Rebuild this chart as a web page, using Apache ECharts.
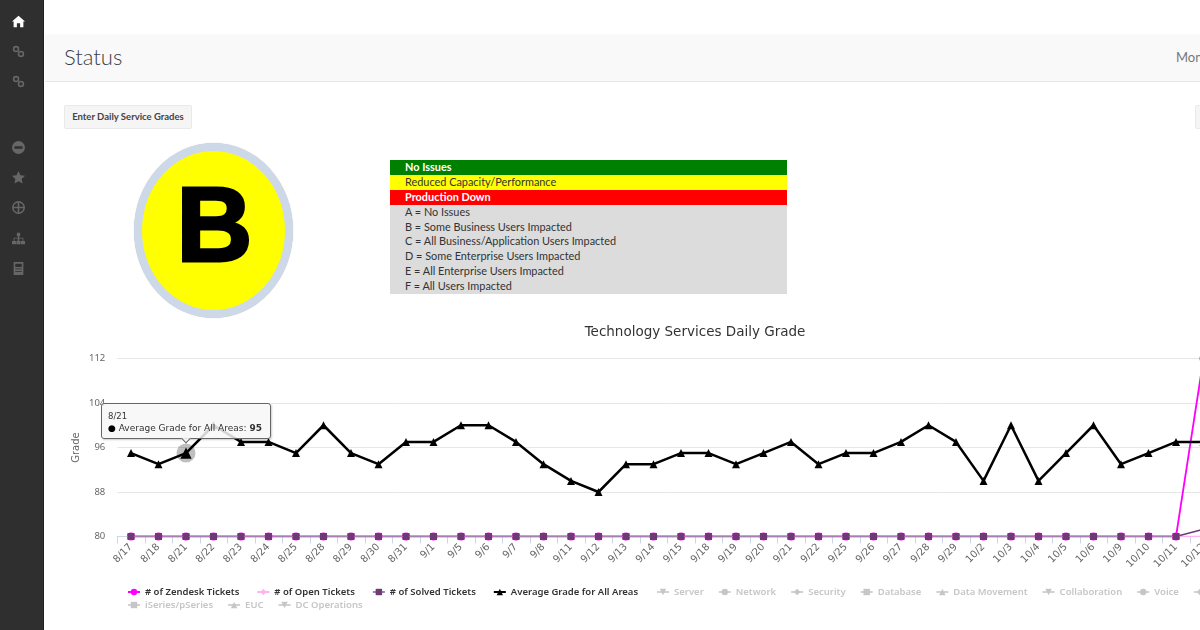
<!DOCTYPE html>
<html>
<head>
    <meta charset="utf-8">
    <title>Status</title>
    <script src="https://cdn.jsdelivr.net/npm/echarts@6/dist/echarts.min.js"></script>
    <style>
        html, body { margin: 0; width: 1200px; height: 630px; overflow: hidden; background: #fff; font-family: Lato, "Open Sans", sans-serif; color: #333; }
        .abs { position: absolute; }
        #sidebar { left: 0; top: 0; width: 44px; height: 630px; background: #2f2f2f; border-right: 1px solid #1f1f1f; box-sizing: border-box; }
        #sidebar svg { position: absolute; left: 12px; width: 13px; height: 13px; fill: #666; }
        #band { left: 45px; top: 34px; width: 1155px; height: 48px; background: #f9f9f9; border-bottom: 1px solid #e7e7e7; border-top: 1px solid #fbfbfb; box-sizing: border-box; }
        #heading { left: 64px; top: 44px; font-size: 22px; line-height: 26px; color: #3c3f48; font-weight: 300; }
        #mon { left: 1176px; top: 49px; font-size: 13px; line-height: 16px; color: #777; }
        .btn { top: 105px; height: 24px; background: #f5f5f5; border: 1px solid #e9e9e9; border-radius: 2px; box-sizing: border-box; }
        #btn { left: 64px; width: 128px; font-size: 9.5px; line-height: 22px; text-align: center; color: #444; font-weight: 700; }
        #grade { left: 134px; top: 143px; width: 159px; height: 175px; border-radius: 50%; background: #ffff00; border: 8.5px solid #cdd9e8; box-sizing: border-box; box-shadow: 0 0 1px #bbb; }
        #letter { left: 135px; top: 137px; width: 159px; height: 175px; text-align: center; font: bold 105px/175px "Liberation Sans", sans-serif; color: #000; -webkit-text-stroke: 3px #000; }
        #key { left: 390px; top: 160px; width: 397px; }
        #key div { height: 14.9px; line-height: 13px; padding-left: 15px; font-size: 10.9px; background: #dcdcdc; color: #333; white-space: nowrap; }
        #key .g { background: #008000; color: #fff; font-weight: 700; }
        #key .y { background: #ffff00; color: #333; }
        #key .r { background: #ff0000; color: #fff; font-weight: 700; }
        #main { left: 0; top: 0; width: 1500px; height: 630px; }
    </style>
</head>
<body>
<div id="sidebar" class="abs">
    <svg style="top:15px;fill:#fff" viewBox="0 0 16 16"><path d="M8 1 0 8h2v7h4v-5h4v5h4V8h2z"/></svg>
    <svg style="top:45px" viewBox="0 0 16 16"><path d="M5 1a4 4 0 1 0 0 8 4 4 0 0 0 0-8zm0 2a2 2 0 1 1 0 4 2 2 0 0 1 0-4zm6 4a4 4 0 1 0 0 8 4 4 0 0 0 0-8zm0 2a2 2 0 1 1 0 4 2 2 0 0 1 0-4z"/></svg>
    <svg style="top:75px" viewBox="0 0 16 16"><path d="M5 1a4 4 0 1 0 0 8 4 4 0 0 0 0-8zm0 2a2 2 0 1 1 0 4 2 2 0 0 1 0-4zm6 4a4 4 0 1 0 0 8 4 4 0 0 0 0-8zm0 2a2 2 0 1 1 0 4 2 2 0 0 1 0-4z"/></svg>
    <svg style="top:141px" viewBox="0 0 16 16"><path d="M8 0a8 8 0 1 0 0 16A8 8 0 0 0 8 0zM3 6.500h10v3H3z" fill-rule="evenodd"/></svg>
    <svg style="top:171px" viewBox="0 0 16 16"><path d="m8 0 2.400 5.200 5.600.7-4.100 3.900 1.100 5.600L8 12.600l-5 2.800 1.100-5.600L0 5.900l5.600-.7z"/></svg>
    <svg style="top:201px" viewBox="0 0 16 16"><path d="M8 0a8 8 0 1 0 0 16A8 8 0 0 0 8 0zM2 7a6 6 0 0 1 5-5v5zm7-5a6 6 0 0 1 5 5H9zM2 9h5v5a6 6 0 0 1-5-5zm7 0h5a6 6 0 0 1-5 5z" fill-rule="evenodd"/></svg>
    <svg style="top:232px" viewBox="0 0 16 16"><path d="M6 1h4v4H9v2h5v4h2v4h-5v-4h2V8H9v3h1.500v4h-5v-4H7V8H3v3h2v4H0v-4h2V7h5V5H6z"/></svg>
    <svg style="top:262px" viewBox="0 0 16 16"><path d="M2 0h12v16H2zm2 2v4h8V2zm0 6v1h8V8zm0 3v1h8v-1z" fill-rule="evenodd"/></svg>
</div>
<div id="band" class="abs"></div>
<div id="heading" class="abs">Status</div>
<div id="mon" class="abs">Mon</div>
<div id="btn" class="abs btn">Enter Daily Service Grades</div>
<div class="abs btn" style="left:1195px;width:20px"></div>
<div id="grade" class="abs"></div>
<div id="letter" class="abs">B</div>
<div id="key" class="abs">
    <div class="g">No Issues</div>
    <div class="y">Reduced Capacity/Performance</div>
    <div class="r">Production Down</div>
    <div>A = No Issues</div>
    <div>B = Some Business Users Impacted</div>
    <div>C = All Business/Application Users Impacted</div>
    <div>D = Some Enterprise Users Impacted</div>
    <div>E = All Enterprise Users Impacted</div>
    <div>F = All Users Impacted</div>
</div>
<div id="main" class="abs"></div>
<script>
var days = ['8/17', '8/18', '8/21', '8/22', '8/23', '8/24', '8/25', '8/28', '8/29', '8/30', '8/31', '9/1', '9/5', '9/6', '9/7', '9/8', '9/11', '9/12', '9/13', '9/14', '9/15', '9/18', '9/19', '9/20', '9/21', '9/22', '9/25', '9/26', '9/27', '9/28', '9/29', '10/2', '10/3', '10/4', '10/5', '10/6', '10/9', '10/10', '10/11', '10/12'];
var avgGrade = [95, 93, 95, 100, 97, 97, 95, 100, 95, 93, 97, 97, 100, 100, 97, 93, 90, 88, 93, 93, 95, 95, 93, 95, 97, 93, 95, 95, 97, 100, 97, 90, 100, 90, 95, 100, 93, 95, 97, 97];
var zendesk = [80, 80, 80, 80, 80, 80, 80, 80, 80, 80, 80, 80, 80, 80, 80, 80, 80, 80, 80, 80, 80, 80, 80, 80, 80, 80, 80, 80, 80, 80, 80, 80, 80, 80, 80, 80, 80, 80, 80, 112];
var openTickets = [80, 80, 80, 80, 80, 80, 80, 80, 80, 80, 80, 80, 80, 80, 80, 80, 80, 80, 80, 80, 80, 80, 80, 80, 80, 80, 80, 80, 80, 80, 80, 80, 80, 80, 80, 80, 80, 80, 80, 80];
var solved = [80, 80, 80, 80, 80, 80, 80, 80, 80, 80, 80, 80, 80, 80, 80, 80, 80, 80, 80, 80, 80, 80, 80, 80, 80, 80, 80, 80, 80, 80, 80, 80, 80, 80, 80, 80, 80, 80, 80, 81.3];
var yTicks = { min: 80, max: 112, interval: 8 };
var shownNames = ['# of Zendesk Tickets', '# of Open Tickets', '# of Solved Tickets', 'Average Grade for All Areas'];
var hiddenRow1 = ['Server', 'Network', 'Security', 'Database', 'Data Movement', 'Collaboration', 'Voice', 'Other'];
var hiddenRow1Symbols = ['path://M0 0H10L5 10Z', 'circle', 'diamond', 'rect', 'triangle', 'path://M0 0H10L5 10Z', 'circle', 'diamond'];
var hiddenRow2 = ['iSeries/pSeries', 'EUC', 'DC Operations'];
var hiddenRow2Symbols = ['rect', 'triangle', 'path://M0 0H10L5 10Z'];
var hoverIndex = 2;

var labelFont = '"DejaVu Sans", sans-serif';
var legendFont = '"Noto Sans", sans-serif';
var chart = echarts.init(document.getElementById('main'));

function lineSeries(name, data, color, symbol, size, width) {
    return {
        name: name,
        type: 'line',
        data: data,
        symbol: symbol,
        symbolSize: size,
        showSymbol: true,
        clip: true,
        itemStyle: { color: color },
        lineStyle: { color: color, width: width },
        emphasis: { scale: 1.4, lineStyle: { width: width } }
    };
}

var series = [
    lineSeries(shownNames[0], zendesk, '#ff00ff', 'circle', 8, 1.8),
    lineSeries(shownNames[1], openTickets, '#ffb3f0', 'diamond', 8, 1.5),
    lineSeries(shownNames[2], solved, '#6e3a74', 'rect', 7, 1.5),
    lineSeries(shownNames[3], avgGrade, '#000000', 'triangle', 8, 2.5)
];
// the flat part sits on the plot edge and looks paler than the rising part
var flatEnd = (days.length - 2) / (days.length - 1);
series[2].lineStyle.color = new echarts.graphic.LinearGradient(0, 0, 1, 0, [
    { offset: 0, color: '#a67fb3' },
    { offset: flatEnd, color: '#a67fb3' },
    { offset: flatEnd, color: '#6e3a74' },
    { offset: 1, color: '#6e3a74' }
]);
series[3].markPoint = {
    silent: true,
    animation: false,
    symbol: 'circle',
    symbolSize: 19,
    itemStyle: { color: 'rgba(0,0,0,0.25)' },
    label: { show: false },
    data: [{ coord: [days[hoverIndex], avgGrade[hoverIndex]] }]
};

var hiddenSelected = {};
hiddenRow1.forEach(function (name, i) {
    hiddenSelected[name] = false;
    series.push(lineSeries(name, [], '#bbbbbb', hiddenRow1Symbols[i], 7, 2));
});
hiddenRow2.forEach(function (name, i) {
    hiddenSelected[name] = false;
    series.push(lineSeries(name, [], '#bbbbbb', hiddenRow2Symbols[i], 7, 2));
});

var legendStyle = {
    orient: 'horizontal',
    itemWidth: 12,
    itemHeight: 8,
    selected: hiddenSelected,
    inactiveColor: '#c6c6c6',
    inactiveBorderColor: '#cccccc',
    textStyle: { fontFamily: legendFont, fontSize: 9.5, fontWeight: 600, color: '#333333' }
};

var option = {
    animation: false,
    title: {
        text: 'Technology Services Daily Grade',
        left: 690,
        top: 320,
        textAlign: 'center',
        textStyle: { fontFamily: labelFont, fontSize: 13.5, fontWeight: 'normal', color: '#333333' }
    },
    tooltip: {
        trigger: 'item',
        position: 'top',
        alwaysShowContent: true,
        transitionDuration: 0,
        backgroundColor: 'rgba(247,247,247,0.85)',
        borderColor: '#666666',
        borderWidth: 1,
        padding: [6, 8, 3, 6],
        extraCssText: 'border-radius:3px;box-shadow:1px 1px 2px rgba(0,0,0,0.2);',
        textStyle: { fontFamily: labelFont, fontSize: 9, color: '#333333' },
        formatter: function (p) {
            return '<div style="font-size:8.5px;line-height:12px">' + p.name + '</div>' +
                '<div style="line-height:13px;white-space:nowrap"><span style="color:#000">\u25CF</span> ' + p.seriesName +
                ': <b>' + p.value + '</b></div>';
        }
    },
    legend: [
        Object.assign({ left: 122, top: 582, itemGap: 17, data: shownNames }, legendStyle),
        Object.assign({ left: 651, top: 582, itemGap: 14, data: hiddenRow1 }, legendStyle),
        Object.assign({ left: 122, top: 595, itemGap: 14, data: hiddenRow2 }, legendStyle)
    ],
    grid: { left: 117.25, top: 358.5, width: 1100, height: 178 },
    xAxis: {
        type: 'category',
        data: days,
        boundaryGap: true,
        axisLine: { lineStyle: { color: '#ccd6eb' } },
        axisTick: { show: true, alignWithLabel: false, length: 7, lineStyle: { color: '#ccd6eb' } },
        axisLabel: { interval: 0, rotate: 45, fontFamily: labelFont, fontSize: 10, color: '#666666', margin: 9 }
    },
    yAxis: {
        type: 'value',
        min: yTicks.min,
        max: yTicks.max,
        interval: yTicks.interval,
        name: 'Grade',
        nameLocation: 'middle',
        nameGap: 36,
        nameMoveOverlap: false,
        nameTextStyle: { fontFamily: labelFont, fontSize: 10, color: '#666666' },
        axisLine: { show: false },
        axisTick: { show: false },
        axisLabel: { fontFamily: legendFont, fontSize: 9.5, color: '#666666', margin: 12 },
        splitLine: { lineStyle: { color: '#e6e6e6' } }
    },
    series: series
};
chart.setOption(option);
chart.dispatchAction({ type: 'highlight', seriesIndex: 3, dataIndex: hoverIndex });
chart.dispatchAction({ type: 'showTip', seriesIndex: 3, dataIndex: hoverIndex });
</script>
</body>
</html>
